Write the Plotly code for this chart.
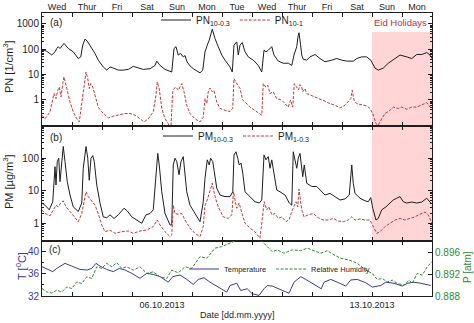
import plotly.graph_objects as go

# ---------------- data (time in hours since 02.10.2013 00:00) ----------------
DAY_NAMES = ["Wed", "Thur", "Fri", "Sat", "Sun", "Mon", "Tue",
             "Wed", "Thur", "Fri", "Sat", "Sun", "Mon"]
DATE_TICK_LABELS = {96: "06.10.2013", 264: "13.10.2013"}
EID_START_H = 264
END_H = 312

t_pn03 = [0, 3.8, 7.8, 10.4, 11.8, 13.0, 14.4, 16.6, 17.6, 21.0, 25.0, 29.0, 31.0, 32.6, 34.4,
          36.2, 38.4, 39.8, 42.4, 45.0, 49.0, 51.8, 54.4, 57.0, 61.0, 65.0, 69.0, 73.0, 77.0,
          81.0, 86.4, 90.4, 91.8, 94.4, 98.4, 103.8, 105.6, 107.2, 109.0, 110.9, 113.0, 114.4,
          116.0, 118.4, 121.0, 126.4, 128.6, 130.4, 132.2, 133.8, 136.2, 138.4, 141.0, 143.8,
          146.4, 150.4, 152.2, 153.6, 155.8, 157.0, 158.4, 160.2, 162.4, 165.0, 169.0, 173.0,
          175.8, 177.6, 179.2, 181.0, 183.8, 185.6, 189.0, 193.0, 197.0, 199.8, 201.6, 203.8,
          204.8, 205.6, 206.8, 207.8, 209.0, 211.8, 214.4, 218.4, 222.4, 226.4, 231.8, 235.8,
          239.8, 243.8, 249.0, 251.8, 255.8, 259.8, 263.0, 266.4, 269.0, 273.0, 277.0, 282.4,
          286.4, 291.8, 295.8, 299.8, 303.8, 307.8, 310.4, 312.0]
pn03 = [100, 83, 59, 79, 107, 126, 107, 158, 170, 107, 79, 43, 50, 145, 251,
        209, 145, 115, 68, 37, 20, 15, 20, 18, 15, 15, 16, 21, 18,
        16, 17, 23, 34, 23, 16, 12.6, 107, 126, 59, 68, 50, 56,
        32, 22, 17, 11.7, 15, 79, 145, 229, 617, 263, 126, 59,
        37, 20, 12.6, 145, 195, 59, 145, 182, 79, 50, 37, 23,
        12.6, 91, 79, 91, 126, 59, 34, 28, 28, 23, 59, 126,
        316, 447, 158, 59, 40, 37, 50, 62, 43, 32, 37, 43,
        37, 34, 34, 43, 50, 50, 37, 18, 15, 18, 28, 43,
        59, 50, 43, 62, 62, 74, 59, 43]

t_pn1 = [0, 2.4, 6.4, 9.6, 11.2, 12.6, 13.8, 15.2, 16.6, 17.6, 19.8, 22.4, 25.0, 27.8, 29.8,
         31.8, 33.6, 35.2, 36.6, 37.8, 39.0, 40.6, 42.4, 45.0, 47.8, 50.4, 53.0, 57.0, 62.4,
         66.4, 70.4, 74.4, 78.4, 81.6, 85.0, 89.0, 91.2, 92.2, 93.8, 95.8, 98.4, 101.0, 103.0,
         104.6, 105.6, 107.2, 109.0, 110.4, 111.8, 113.6, 115.8, 118.4, 122.4, 126.4, 129.0,
         130.4, 131.8, 133.0, 134.4, 136.2, 137.6, 139.8, 142.4, 146.4, 150.4, 152.6, 153.6,
         155.0, 156.6, 158.4, 160.6, 162.4, 166.4, 171.8, 175.8, 177.0, 179.0, 180.6, 182.4,
         185.0, 187.8, 191.8, 194.4, 197.0, 198.8, 200.6, 201.8, 203.8, 205.2, 206.4, 207.8,
         208.6, 210.4, 211.8, 214.4, 218.4, 222.4, 226.4, 230.4, 234.4, 238.4, 242.4, 245.0,
         247.0, 248.2, 249.6, 251.8, 255.8, 259.8, 262.4, 264.6, 267.2, 269.0, 271.8, 274.4,
         278.4, 281.0, 285.0, 287.8, 291.8, 295.8, 299.8, 303.8, 307.8, 310.4, 312.0]
pn1 = [0.25, 0.18, 0.34, 1.78, 1.12, 2.4, 3.2, 1.32, 4.4, 8.1, 2.8, 0.83, 0.34, 0.18, 0.135,
       0.62, 3.8, 12.6, 6.9, 2.8, 4.4, 3.2, 1.55, 0.52, 0.34, 0.25, 0.195, 0.23, 0.26,
       0.29, 0.29, 0.25, 0.18, 0.135, 0.18, 0.34, 1.55, 5.1, 2.8, 0.46, 0.18, 0.115, 0.063,
       2.1, 2.8, 3.2, 2.4, 3.2, 4.4, 2.1, 0.62, 0.29, 0.18, 0.135, 0.21,
       1.12, 0.71, 2.1, 2.95, 2.1, 2.4, 0.83, 0.46, 0.39, 0.35, 0.46, 6.9,
       5.1, 3.8, 2.8, 0.98, 0.83, 0.52, 0.34, 0.25, 4.4, 3.2, 3.8, 1.78,
       2.1, 1.12, 0.98, 0.71, 0.52, 0.98, 0.52, 4.4, 3.2, 2.5, 4.0, 3.2,
       2.1, 2.8, 1.78, 1.55, 1.32, 1.07, 0.89, 0.71, 0.62, 0.48, 0.62, 0.83,
       1.12, 2.4, 0.98, 0.71, 0.62, 0.58, 0.46, 0.29, 0.115, 0.1, 0.18, 0.29,
       0.39, 0.52, 0.46, 0.52, 0.43, 0.52, 0.52, 0.62, 0.78, 0.52, 0.5]

t_pm03 = [0, 2.4, 5.8, 8.6, 10.4, 11.2, 12.2, 13.4, 14.4, 15.8, 17.0, 18.4, 20.2, 22.4, 25.0,
          29.0, 31.8, 33.0, 35.2, 36.6, 37.8, 39.2, 40.6, 41.8, 43.8, 46.4, 49.0, 51.8, 54.4,
          57.6, 61.0, 65.6, 68.2, 71.8, 75.8, 79.8, 83.2, 86.4, 89.0, 91.2, 92.6, 93.8, 95.8,
          98.4, 102.4, 103.8, 105.0, 106.4, 107.8, 109.6, 111.2, 113.0, 114.4, 115.8, 118.4,
          122.4, 126.4, 129.0, 130.4, 132.2, 133.8, 134.9, 136.6, 137.8, 139.8, 142.4, 146.4,
          150.4, 152.6, 153.6, 155.2, 156.6, 157.8, 159.2, 160.6, 162.4, 166.4, 170.4, 173.8,
          175.8, 177.6, 179.2, 181.0, 182.4, 183.8, 185.6, 187.8, 190.4, 194.4, 197.8, 199.8,
          201.0, 202.4, 203.8, 205.0, 206.4, 208.6, 209.8, 211.8, 215.8, 219.8, 223.8, 226.4,
          230.4, 234.4, 238.4, 242.4, 245.8, 247.8, 249.0, 250.4, 254.4, 258.4, 261.0, 263.0,
          264.6, 267.2, 269.0, 271.8, 275.2, 278.4, 281.0, 283.8, 286.4, 289.0, 291.8, 295.8,
          299.8, 303.8, 307.8, 311.0, 312.0]
pm03 = [4.2, 3.6, 2.6, 4.6, 55, 15, 79, 100, 19, 79, 229, 79, 19, 7.4, 3.2,
        2.3, 4.2, 49, 229, 100, 21, 100, 120, 79, 15, 4.2, 1.58, 1.48, 1.82,
        1.41, 1.82, 2.9, 2.4, 1.58, 1.26, 1.0, 1.82, 2.0, 2.6, 44, 141, 62, 9.3,
        2.0, 0.89, 0.89, 62, 100, 79, 31, 79, 112, 39, 9.3, 3.6,
        2.0, 1.12, 4.6, 24, 89, 62, 100, 79, 39, 12, 7.4, 6.6,
        6.6, 9.3, 126, 158, 100, 62, 71, 35, 9.3, 6.6, 4.6, 4.2,
        5.2, 126, 89, 112, 49, 89, 31, 10.5, 9.3, 7.4, 4.2, 3.6,
        158, 89, 49, 100, 141, 27, 62, 17, 13.5, 13.5, 9.3, 7.4,
        8.3, 6.6, 5.2, 5.6, 7.4, 62, 17, 8.3, 5.9, 4.9, 4.6, 6.2,
        2.9, 1.26, 1.41, 2.6, 3.2, 4.2, 5.2, 5.9, 6.6, 4.6, 4.2, 4.5,
        4.2, 4.5, 5.9, 4.2, 4.0]

t_pm1 = [0, 2.4, 6.4, 9.0, 11.2, 13.0, 15.0, 17.0, 19.2, 22.4, 26.4, 29.0, 31.8, 33.6, 35.2,
         37.0, 39.8, 42.4, 45.0, 47.8, 50.4, 54.4, 58.4, 63.8, 69.0, 73.0, 78.4, 83.8, 89.0,
         92.2, 94.4, 98.4, 102.4, 103.8, 105.0, 106.4, 109.0, 111.8, 114.4, 118.4, 122.4,
         126.4, 129.0, 130.4, 132.2, 134.4, 136.2, 138.4, 141.0, 145.0, 149.0, 151.8, 153.2,
         154.4, 155.8, 157.6, 159.8, 162.4, 166.4, 170.4, 174.4, 176.2, 177.8, 179.8, 181.6,
         183.8, 186.4, 189.0, 191.8, 195.2, 197.8, 199.8, 201.6, 203.2, 204.6, 205.6, 206.8,
         207.8, 209.6, 213.0, 217.0, 221.0, 225.0, 229.0, 233.0, 237.0, 241.0, 245.0, 247.8,
         250.4, 254.4, 258.4, 262.4, 265.0, 267.8, 270.4, 274.4, 278.4, 282.4, 286.4, 290.4,
         294.4, 298.4, 302.4, 306.4, 309.0, 311.0, 312.0]
pm1 = [2.6, 2.0, 1.7, 2.6, 3.6, 3.2, 4.2, 4.9, 3.2, 2.3, 1.41, 1.12, 2.0, 4.6, 9.3,
       6.6, 4.6, 3.6, 2.0, 0.89, 0.55, 0.62, 0.49, 0.55, 0.58, 0.49, 0.58, 0.62, 0.79,
       1.26, 0.89, 0.55, 0.39, 0.44, 3.6, 2.0, 1.9, 2.0, 1.26, 0.71, 0.49,
       0.39, 0.79, 3.6, 5.2, 10.5, 17, 6.6, 3.2, 1.58, 1.41, 1.82, 9.3,
       5.2, 2.9, 4.2, 2.0, 1.0, 0.71, 0.55, 0.35, 1.12, 4.6, 2.6, 3.2,
       1.82, 2.0, 1.41, 1.58, 1.12, 1.32, 2.3, 3.2, 4.6, 3.2, 11.2, 5.0,
       2.6, 1.58, 1.82, 2.0, 1.48, 1.26, 1.26, 1.41, 1.17, 1.12, 1.26, 1.58,
       1.26, 1.35, 1.26, 1.26, 0.79, 0.49, 0.55, 0.79, 1.0, 1.26, 1.41, 1.26,
       1.41, 1.58, 1.9, 2.2, 1.82, 1.12, 1.0]

t_temp = [0, 5.0, 8.6, 11.8, 15.0, 18.4, 23.8, 30.4, 36.2, 39.8, 43.2, 46.4, 51.8, 57.0, 61.8,
          66.4, 71.8, 78.4, 83.8, 89.0, 94.4, 101.0, 104.6, 110.4, 115.8, 121.0, 125.0, 129.6,
          134.4, 141.0, 147.8, 150.4, 155.8, 159.0, 164.2, 168.2, 173.6, 177.6, 180.2, 184.2,
          191.0, 197.6, 201.6, 207.0, 211.0, 217.6, 223.4, 225.6, 231.0, 236.2, 243.0, 247.0,
          252.2, 259.0, 264.2, 271.0, 275.0, 281.6, 288.2, 292.2, 297.6, 303.0, 311.0]
temp = [37.3, 36.8, 36.4, 37.0, 37.4, 37.9, 37.4, 36.8, 36.7, 37.0, 37.9, 37.4, 36.8, 36.4, 37.0,
        36.7, 36.1, 35.2, 36.1, 35.9, 35.5, 34.5, 35.5, 35.8, 35.0, 34.1, 35.0, 35.3,
        34.5, 33.6, 32.7, 33.9, 34.3, 33.0, 33.3, 32.4, 32.1, 33.3, 33.9, 33.8,
        33.2, 32.5, 34.5, 35.5, 35.0, 34.1, 33.3, 34.5, 35.0, 34.5, 33.8, 34.9,
        35.0, 34.4, 33.6, 33.9, 34.5, 34.3, 33.8, 34.3, 34.5, 34.3, 33.9]

t_rh = [0, 3.8, 7.8, 11.8, 15.8, 19.8, 23.8, 27.8, 31.8, 35.8, 39.8, 43.8, 47.8, 51.8, 55.8,
        59.8, 63.8, 67.8, 73.0, 78.4, 83.8, 89.0, 94.4, 99.8, 103.8, 109.0, 114.4, 119.8,
        126.4, 131.8, 138.4, 143.8, 150.4, 155.8, 161.6, 165.0, 169.6, 176.2, 180.2, 184.2,
        188.2, 193.6, 200.2, 207.0, 212.2, 217.6, 223.0, 228.2, 233.6, 239.0, 245.6, 252.2,
        258.9, 264.2, 268.2, 272.2, 276.2, 280.2, 284.2, 289.6, 293.6, 296.2, 300.2, 304.2,
        308.2, 312.0]
rh = [0.88938, 0.88874, 0.88856, 0.88906, 0.88874, 0.88967, 0.88938, 0.89060, 0.89031,
      0.89153, 0.89124, 0.89339, 0.89310, 0.89403, 0.89339, 0.89414, 0.89310, 0.89339,
      0.89278, 0.89339, 0.89217, 0.89246, 0.89153, 0.89124, 0.89278, 0.89228, 0.89339,
      0.89310, 0.89525, 0.89496, 0.89682, 0.89711, 0.89775, 0.89840, 0.89900, 0.89930,
      0.89870, 0.89804, 0.89711, 0.89618, 0.89650, 0.89589, 0.89650, 0.89637, 0.89682,
      0.89637, 0.89589, 0.89637, 0.89557, 0.89496, 0.89464, 0.89403, 0.89278, 0.89217,
      0.89105, 0.89124, 0.89060, 0.89092, 0.89031, 0.88999, 0.89092, 0.89031, 0.89217,
      0.89185, 0.89339, 0.89432]

# ---------------- styling ----------------
FONT = "Liberation Sans, Arial, sans-serif"
BLACK = "#1e1e1e"
RED = "#c0393b"
BLUE = "#3a3a96"
GREEN = "#2f8a2f"
PINK = "#ffd5d6"

W, H = 474, 323
ML, MR, MT, MB = 42, 42, 13, 27
PH = H - MT - MB
dom_a = [(296 - 126) / PH, 1.0]
dom_b = [(296 - 240.7) / PH, dom_a[0]]
dom_c = [0.0, dom_b[0]]

fig = go.Figure()

fig.add_trace(go.Scatter(x=t_pn03, y=pn03, mode="lines", name="PN<sub>10-0.3</sub>",
                         line=dict(color=BLACK, width=1), xaxis="x", yaxis="y", legend="legend"))
fig.add_trace(go.Scatter(x=t_pn1, y=pn1, mode="lines", name="PN<sub>10-1</sub>",
                         line=dict(color=RED, width=1, dash="3px,1.5px"), xaxis="x", yaxis="y",
                         legend="legend"))
fig.add_trace(go.Scatter(x=t_pm03, y=pm03, mode="lines", name="PM<sub>10-0.3</sub>",
                         line=dict(color=BLACK, width=1), xaxis="x2", yaxis="y2", legend="legend2"))
fig.add_trace(go.Scatter(x=t_pm1, y=pm1, mode="lines", name="PM<sub>1-0.3</sub>",
                         line=dict(color=RED, width=1, dash="3px,1.5px"), xaxis="x2", yaxis="y2",
                         legend="legend2"))
fig.add_trace(go.Scatter(x=t_temp, y=temp, mode="lines", name="Temperature",
                         line=dict(color=BLUE, width=1), xaxis="x3", yaxis="y3", legend="legend3"))
fig.add_trace(go.Scatter(x=t_rh, y=rh, mode="lines", name="Relative Humidity",
                         line=dict(color=GREEN, width=1, dash="3px,1.5px"), xaxis="x3", yaxis="y4",
                         legend="legend3"))

day_ticks = [24 * i for i in range(len(DAY_NAMES) + 1)]
day_mids = [24 * i + 12 for i in range(len(DAY_NAMES))]
date_text = [DATE_TICK_LABELS.get(v, "") for v in day_ticks]

# invisible carrier trace so the top (day-name) axis is drawn
fig.add_trace(go.Scatter(x=day_mids, y=[1] * len(day_mids), mode="lines",
                         line=dict(width=0, color="rgba(0,0,0,0)"), hoverinfo="skip",
                         showlegend=False, xaxis="x4", yaxis="y"))

xcommon = dict(range=[0, END_H], tickmode="array", tickvals=day_ticks, ticks="inside",
               ticklen=4, tickcolor=BLACK, showline=True, linecolor=BLACK, linewidth=1.3,
               mirror="ticks", showgrid=False, zeroline=False, fixedrange=True,
               automargin=False)
ylog = dict(type="log", tickmode="array", tickvals=[1, 10, 100, 1000],
            ticktext=["1", "10", "100", "1000"], ticks="inside", ticklen=4, tickcolor=BLACK,
            minor=dict(ticks="inside", ticklen=2, dtick="D1", tickcolor=BLACK, showgrid=False),
            showline=True, linecolor=BLACK, linewidth=1.0, automargin=False,
            mirror="ticks", showgrid=False, zeroline=False, tickfont=dict(size=10, color=BLACK))

def cx(p):
    return p / W
def cy(p):
    return 1 - p / H

fig.update_layout(
    width=W, height=H, autosize=False,
    margin=dict(l=ML, r=MR, t=MT, b=MB, pad=0, autoexpand=False),
    paper_bgcolor="white", plot_bgcolor="rgba(0,0,0,0)",
    font=dict(family=FONT, size=10, color=BLACK),
    xaxis=dict(**xcommon, domain=[0, 1], anchor="y", showticklabels=False),
    xaxis2=dict(**xcommon, domain=[0, 1], anchor="y2", showticklabels=False),
    xaxis3=dict(**xcommon, domain=[0, 1], anchor="y3", ticktext=date_text,
                tickfont=dict(size=9, color=BLACK)),
    xaxis4=dict(overlaying="x", side="top", anchor="y", range=[0, END_H], tickmode="array",
                tickvals=day_mids, ticktext=DAY_NAMES, ticks="", showline=False, showgrid=False,
                zeroline=False, tickfont=dict(size=9, color=BLACK), fixedrange=True,
                automargin=False),
    yaxis=dict(**ylog, domain=dom_a, anchor="x", range=[-1.03, 3.43]),
    yaxis2=dict(**ylog, domain=dom_b, anchor="x2", range=[-0.535, 2.99]),
    yaxis3=dict(domain=dom_c, anchor="x3", range=[32, 42], tickmode="array",
                tickvals=[32, 36, 40], ticks="inside", ticklen=4, tickcolor=BLACK,
                minor=dict(ticks="inside", ticklen=2, dtick=2, tickcolor=BLACK, showgrid=False),
                showline=True, linecolor=BLACK, linewidth=1.0, mirror=True, showgrid=False,
                zeroline=False, tickfont=dict(size=10, color=BLUE), automargin=False),
    yaxis4=dict(overlaying="y3", side="right", anchor="x3", range=[0.888, 0.8982],
                tickmode="array", tickvals=[0.888, 0.892, 0.896], tickformat=".3f",
                ticks="inside", ticklen=4, tickcolor=BLACK, showline=True, linecolor=BLACK,
                linewidth=1.0, showgrid=False, zeroline=False, automargin=False,
                tickfont=dict(size=10, color=GREEN)),
    legend=dict(orientation="h", xref="container", yref="container", x=cx(156), y=cy(20),
                xanchor="left", yanchor="middle", bgcolor="rgba(0,0,0,0)",
                font=dict(size=10), itemwidth=30, tracegroupgap=0),
    legend2=dict(orientation="h", xref="container", yref="container", x=cx(158), y=cy(136),
                 xanchor="left", yanchor="middle", bgcolor="rgba(0,0,0,0)",
                 font=dict(size=10), itemwidth=30, tracegroupgap=0),
    legend3=dict(orientation="h", xref="container", yref="container", x=cx(184), y=cy(269),
                 xanchor="left", yanchor="middle", bgcolor="rgba(0,0,0,0)",
                 font=dict(size=7.5), itemwidth=30, tracegroupgap=0),
    showlegend=True,
)

# Eid holiday shading (panels a and b)
fig.add_shape(type="rect", xref="x", yref="paper", x0=EID_START_H, x1=END_H,
              y0=dom_b[0], y1=1 - 19 / PH, fillcolor=PINK, line_width=0, layer="below")

pw = W - ML - MR
def px_x(p):
    return (p - ML) / pw
def px_y(p):
    return (H - MB - p) / PH

annos = [
    dict(text="(a)", x=px_x(56), y=px_y(22), size=10, color=BLACK, angle=0),
    dict(text="(b)", x=px_x(56), y=px_y(137), size=10, color=BLACK, angle=0),
    dict(text="(c)", x=px_x(55), y=px_y(249), size=10, color=BLACK, angle=0),
    dict(text="Eid Holidays", x=px_x(400), y=px_y(22), size=9.5, color="#b8333f", angle=0),
    dict(text="PN [1/cm<sup>3</sup>]", x=px_x(8), y=px_y(67), size=11, color=BLACK, angle=-90),
    dict(text="PM [µg/m<sup>3</sup>]", x=px_x(8), y=px_y(182), size=11, color=BLACK, angle=-90),
    dict(text="T [<sup>0</sup>C]", x=px_x(21), y=px_y(266), size=11, color=BLUE, angle=-90),
    dict(text="P [atm]", x=px_x(467), y=px_y(267), size=10, color=GREEN, angle=-90),
    dict(text="Date [dd.mm.yyyy]", x=px_x(237), y=px_y(315), size=9, color=BLACK, angle=0),
]
for a in annos:
    fig.add_annotation(text=a["text"], xref="paper", yref="paper", x=a["x"], y=a["y"],
                       xanchor="center", yanchor="middle", showarrow=False,
                       textangle=a["angle"], font=dict(size=a["size"], color=a["color"]))

fig.write_html("out.html")
